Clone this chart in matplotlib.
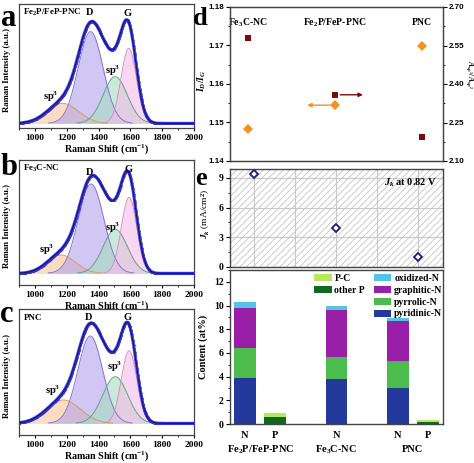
import numpy as np
import matplotlib
matplotlib.use("Agg")
import matplotlib.pyplot as plt
from matplotlib.patches import Patch, Rectangle
from matplotlib.ticker import MultipleLocator

plt.rcParams['font.family'] = ['Liberation Serif', 'DejaVu Serif']
plt.rcParams['font.weight'] = 'bold'
plt.rcParams['mathtext.fontset'] = 'custom'
plt.rcParams['mathtext.rm'] = 'Liberation Serif:bold'
plt.rcParams['mathtext.it'] = 'Liberation Serif:italic:bold'
plt.rcParams['mathtext.bf'] = 'Liberation Serif:bold'
plt.rcParams['hatch.linewidth'] = 0.6

# ---------------- data ----------------
raman_samples = ["Fe$_2$P/FeP-PNC", "Fe$_3$C-NC", "PNC"]
peak_labels = ["sp$^3$", "D", "sp$^3$", "G"]
# peak centres (cm-1), heights (a.u.), FWHM (cm-1) for sp3(low), D, sp3(high), G
peak_centers_a = [1175, 1350, 1505, 1590]
peak_heights_a = [60, 275, 140, 225]
peak_fwhm_a = [230, 185, 180, 115]
peak_centers_b = [1165, 1353, 1505, 1592]
peak_heights_b = [55, 268, 132, 228]
peak_fwhm_b = [210, 190, 180, 115]
peak_centers_c = [1180, 1348, 1505, 1592]
peak_heights_c = [70, 262, 140, 218]
peak_fwhm_c = [250, 185, 185, 115]

d_categories = ["Fe$_3$C-NC", "Fe$_2$P/FeP-PNC", "PNC"]
id_ig = [1.1484, 1.1545, 1.1698]
asp3_asp2 = [2.578, 2.358, 2.194]

jk_values = [9.4, 3.9, 1.05]

bar_groups = ["Fe$_2$P/FeP-PNC", "Fe$_3$C-NC", "PNC"]
pyridinic_N = [3.92, 3.78, 3.08]
pyrrolic_N = [2.53, 1.88, 2.27]
graphitic_N = [3.35, 3.98, 3.31]
oxidized_N = [0.48, 0.30, 0.31]
p_groups = ["Fe$_2$P/FeP-PNC", "PNC"]
other_P = [0.61, 0.20]
P_C = [0.29, 0.14]

# ---------------- layout ----------------
W, H = 474, 463
fig = plt.figure(figsize=(W / 100, H / 100), dpi=100)

def rect(x0, y0, x1, y1):
    return [x0 / W, 1 - y1 / H, (x1 - x0) / W, (y1 - y0) / H]

def letter(x, y_base, t, size):
    fig.text(x / W, 1 - y_base / H, t, fontsize=size, fontweight='bold',
             ha='left', va='baseline')

fill_cols = ['#f8c596', '#b3a2ee', '#a6dcc0', '#f6bce8']
edge_cols = ['#e09a5a', '#8a72d2', '#5aa882', '#d690c6']

def raman_panel(box, centers, heights, fwhm, ylim, name, texts):
    ax = fig.add_axes(rect(*box))
    x = np.linspace(900, 2000, 551)
    total = np.zeros_like(x)
    for c, h, f, fc, ec in zip(centers, heights, fwhm, fill_cols, edge_cols):
        s = f / 2.3548
        g = h * np.exp(-0.5 * ((x - c) / s) ** 2)
        total += g
        ax.fill_between(x, 0, g, color=fc, alpha=0.6, lw=0, zorder=1)
        m = g > 1.0
        ax.plot(x[m], g[m], color=ec, lw=0.7, zorder=2)
    ax.plot(x, total, color='#4040f0', lw=2.2, alpha=0.9, zorder=3)
    ax.plot(x, total, 'o', color='#3030e0', ms=1.8, mew=0, zorder=3)
    ax.plot(x, total, color='#151535', lw=0.6, zorder=4)
    ax.set_xlim(900, 2000)
    ax.set_ylim(*ylim)
    ax.set_yticks([])
    ax.xaxis.set_major_locator(MultipleLocator(200))
    ax.xaxis.set_minor_locator(MultipleLocator(100))
    ax.tick_params(axis='x', which='major', length=2.5, width=0.8, labelsize=6.8, pad=1.5)
    ax.tick_params(axis='x', which='minor', length=1.5, width=0.6)
    for lab in ax.get_xticklabels():
        lab.set_fontweight('bold')
    for sp in ax.spines.values():
        sp.set_color('#444444')
        sp.set_linewidth(0.9)
    ax.set_xlabel("Raman Shift (cm$^{-1}$)", fontsize=7.2, fontweight='bold', labelpad=0.5)
    ax.set_ylabel("Raman Intensity (a.u.)", fontsize=6.3, fontweight='bold', labelpad=3)
    ax.yaxis.set_label_coords(-0.045, 0.47)
    ax.text(0.025, 0.93, name, transform=ax.transAxes, fontsize=6.5, fontweight='bold',
            va='center', ha='left')
    for (tx, ty, t) in texts:
        ax.text(tx, ty, t, transform=ax.transAxes, fontsize=7.5, fontweight='bold',
                ha='center', va='center')
    return ax

raman_panel((19, 4, 194, 128), peak_centers_a, peak_heights_a, peak_fwhm_a, (-14, 358),
            raman_samples[0],
            [(0.405, 0.93, peak_labels[1]), (0.62, 0.92, peak_labels[3]),
             (0.18, 0.25, peak_labels[0]), (0.535, 0.46, peak_labels[2])])
raman_panel((19, 160, 194, 285), peak_centers_b, peak_heights_b, peak_fwhm_b, (-35, 340),
            raman_samples[1],
            [(0.405, 0.9, peak_labels[1]), (0.625, 0.92, peak_labels[3]),
             (0.16, 0.28, peak_labels[0]), (0.535, 0.46, peak_labels[2])])
raman_panel((19, 309, 194, 435), peak_centers_c, peak_heights_c, peak_fwhm_c, (-35, 343),
            raman_samples[2],
            [(0.395, 0.93, peak_labels[1]), (0.62, 0.93, peak_labels[3]),
             (0.19, 0.35, peak_labels[0]), (0.545, 0.54, peak_labels[2])])
letter(1, 26, 'a', 22)
letter(1, 175, 'b', 22)
letter(0, 322, 'c', 22)

# ---------------- panel d ----------------
axd = fig.add_axes(rect(230, 7, 443, 161))
axd2 = axd.twinx()
xd = np.arange(len(d_categories))
axd.plot(xd, id_ig, 'D', color='#f39122', ms=5.5, mew=0, zorder=3)
axd2.plot(xd, asp3_asp2, 's', color='#7a0c10', ms=5, mew=0, zorder=3)
axd.set_xlim(-0.207, 2.24)
axd.set_ylim(1.14, 1.18)
axd2.set_ylim(2.10, 2.70)
axd.set_xticks([])
axd.set_yticks([1.14, 1.15, 1.16, 1.17, 1.18])
axd.set_yticklabels(['1.14', '1.15', '1.16', '1.17', '1.18'])
axd.yaxis.set_minor_locator(MultipleLocator(0.005))
axd2.set_yticks([2.10, 2.25, 2.40, 2.55, 2.70])
axd2.set_yticklabels(['2.10', '2.25', '2.40', '2.55', '2.70'])
axd2.yaxis.set_minor_locator(MultipleLocator(0.075))
for a in (axd, axd2):
    a.tick_params(which='major', length=3, width=0.8, labelsize=5.8, pad=1.0)
    a.tick_params(which='minor', length=1.5, width=0.6)
    for lab in a.get_yticklabels():
        lab.set_family(['Liberation Sans', 'DejaVu Sans'])
        lab.set_fontweight('bold')
    for sp in a.spines.values():
        sp.set_color('#444444')
        sp.set_linewidth(0.9)
axd.set_ylabel("$I_D/I_G$", fontsize=7)
axd.yaxis.set_label_coords(-0.105, 0.52)
axd2.set_ylabel("$A_{sp^3}/A_{sp^2}$", fontsize=5.6, rotation=270, va='center')
axd2.yaxis.set_label_coords(1.124, 0.56)
for i, cat in enumerate(d_categories):
    axd.text(xd[i], 0.9, cat, transform=axd.get_xaxis_transform(), fontsize=7,
             fontweight='bold', ha='center', va='center')
axd2.annotate('', xy=(1.32, asp3_asp2[1]), xytext=(1.06, asp3_asp2[1]),
              arrowprops=dict(arrowstyle='-|>', color='#7a0c10', lw=1.0,
                              mutation_scale=6, shrinkA=0, shrinkB=0))
axd.annotate('', xy=(0.68, id_ig[1]), xytext=(0.94, id_ig[1]),
             arrowprops=dict(arrowstyle='-|>', color='#f39122', lw=1.0,
                             mutation_scale=6, shrinkA=0, shrinkB=0))
letter(193, 25, 'd', 19)

# ---------------- panel e ----------------
axe = fig.add_axes(rect(230, 169, 443, 267))
xe = [1, 3, 5]
axe.add_patch(Rectangle((0, 0), 1, 1, transform=axe.transAxes, facecolor='white',
                        edgecolor='#c4c4c4', hatch='/////', lw=0, zorder=0))
axe.plot(xe, jk_values, 'D', mfc='white', mec='#1c1c7e', mew=1.3, ms=4.5, zorder=3)
axe.set_xlim(0.415, 5.61)
axe.set_ylim(0, 9.9)
axe.set_xticks([1, 2, 3, 4, 5])
axe.set_xticklabels([])
axe.tick_params(axis='x', length=0)
axe.set_yticks([0, 3, 6, 9])
axe.yaxis.set_minor_locator(MultipleLocator(1.5))
axe.tick_params(axis='y', which='major', length=3, width=0.8, labelsize=7, pad=1.5)
axe.tick_params(axis='y', which='minor', length=1.5, width=0.6)
axe.grid(True, color='#c8c8c8', lw=0.8, zorder=1)
axe.set_axisbelow(True)
for sp in axe.spines.values():
    sp.set_color('#444444')
    sp.set_linewidth(1.0)
axe.set_ylabel("$J_k$ (mA/cm$^2$)", fontsize=6.8)
axe.yaxis.set_label_coords(-0.085, 0.54)
axe.text(0.97, 0.86, "$J_k$ at 0.82 V", transform=axe.transAxes, fontsize=7.5,
         ha='right', va='center')
letter(195, 185, 'e', 19)

# ---------------- bar panel ----------------
axf = fig.add_axes(rect(230, 270, 443, 424))
n_pos = [0, 3, 5]
p_pos = [1, 6]
bw = 0.72
col_pyd = '#233a9c'
col_pyr = '#4cbc4c'
col_gra = '#9a1fa8'
col_oxi = '#54c3e8'
col_oP = '#0d6a1e'
col_PC = '#b8e85e'
bottom = np.zeros(3)
for vals, col in [(pyridinic_N, col_pyd), (pyrrolic_N, col_pyr), (graphitic_N, col_gra),
                  (oxidized_N, col_oxi)]:
    axf.bar(n_pos, vals, bw, bottom=bottom, color=col, lw=0)
    bottom += np.array(vals)
pb = np.zeros(2)
for vals, col in [(other_P, col_oP), (P_C, col_PC)]:
    axf.bar(p_pos, vals, bw, bottom=pb, color=col, lw=0)
    pb += np.array(vals)
axf.set_xlim(-0.49, 6.49)
axf.set_ylim(0, 13)
axf.set_xticks(n_pos + p_pos)
axf.set_xticklabels(['N'] * 3 + ['P'] * 2, fontsize=7.5, fontweight='bold')
axf.tick_params(axis='x', length=0, pad=5)
axf.yaxis.set_major_locator(MultipleLocator(2))
axf.yaxis.set_minor_locator(MultipleLocator(1))
axf.tick_params(axis='y', which='major', length=3, width=0.8, labelsize=7, pad=1.5)
axf.tick_params(axis='y', which='minor', length=1.5, width=0.6)
for sp in axf.spines.values():
    sp.set_color('#444444')
    sp.set_linewidth(1.0)
axf.set_ylabel("Content (at%)", fontsize=7.5, fontweight='bold')
axf.yaxis.set_label_coords(-0.105, 0.5)
group_x = [0.5, 3, 5.5]
for gx, g in zip(group_x, bar_groups):
    axf.text(gx, -0.165, g, transform=axf.get_xaxis_transform(), fontsize=7.5,
             fontweight='bold', ha='center', va='center')
blank = Patch(facecolor='none', edgecolor='none')
handles = [Patch(facecolor=col_PC), Patch(facecolor=col_oP), blank, blank,
           Patch(facecolor=col_oxi), Patch(facecolor=col_gra), Patch(facecolor=col_pyr),
           Patch(facecolor=col_pyd)]
labels = ['P-C', 'other P', '', '', 'oxidized-N', 'graphitic-N', 'pyrrolic-N', 'pyridinic-N']
leg = axf.legend(handles, labels, ncol=2, loc='upper right', bbox_to_anchor=(1.03, 1.02),
                 frameon=False, fontsize=7, handlelength=1.8, handleheight=0.75,
                 handletextpad=0.3, columnspacing=0.9, labelspacing=0.3, borderpad=0.2)
for t in leg.get_texts():
    t.set_fontweight('bold')

fig.savefig('out.png', dpi=100)
